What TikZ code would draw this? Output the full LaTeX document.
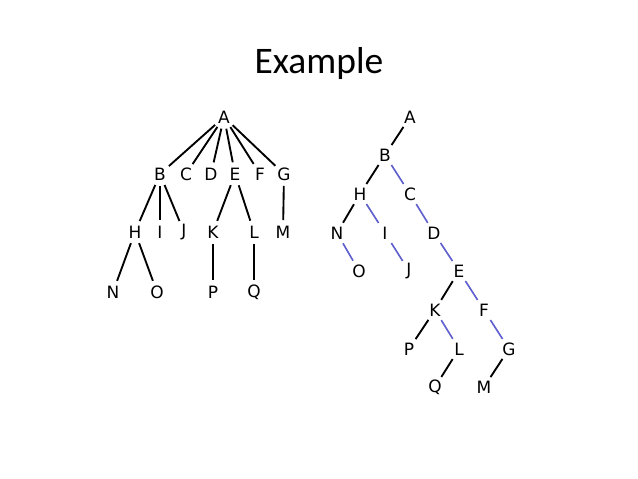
\documentclass[tikz,border=0pt]{standalone}
\usepackage{fontspec}
\setmainfont{Carlito}
\newfontfamily\treefont{DejaVu Sans}
\usepackage{tikz}
\definecolor{linkblue}{RGB}{95,95,205}

\begin{document}
\begin{tikzpicture}[x=0.03cm,y=-0.03cm,
  every node/.style={circle,inner sep=0pt,minimum size=0.7cm,font=\treefont\fontsize{14.5}{14.5}\selectfont},
  edge/.style={line width=1.6pt,black},
  link/.style={line width=1.4pt,linkblue}]
\useasboundingbox (0,0) rectangle (638,479);

\node[font=\fontsize{32}{32}\selectfont,rectangle] (title) at (319,64) {Example};

\node (la) at (224,117) {A};
\node (lb) at (160,174) {B};
\node (lc) at (186,174) {C};
\node (ld) at (211,174) {D};
\node (le) at (235,174) {E};
\node (lf) at (260,174) {F};
\node (lg) at (284,174) {G};
\node (lh) at (135,232) {H};
\node (li) at (160,232) {I};
\node (lj) at (184,232) {J};
\node (lk) at (213,232) {K};
\node (ll) at (254,232) {L};
\node (lm) at (283,232) {M};
\node (ln) at (113,292) {N};
\node (lo) at (157,292) {O};
\node (lp) at (213,292) {P};
\node (lq) at (254,292) {Q};

\draw[edge] (la) -- (lb);
\draw[edge] (la) -- (lc);
\draw[edge] (la) -- (ld);
\draw[edge] (la) -- (le);
\draw[edge] (la) -- (lf);
\draw[edge] (la) -- (lg);
\draw[edge] (lb) -- (lh);
\draw[edge] (lb) -- (li);
\draw[edge] (lb) -- (lj);
\draw[edge] (le) -- (lk);
\draw[edge] (le) -- (ll);
\draw[edge] (lg) -- (lm);
\draw[edge] (lh) -- (ln);
\draw[edge] (lh) -- (lo);
\draw[edge] (lk) -- (lp);
\draw[edge] (ll) -- (lq);

\node (ra) at (410,117) {A};
\node (rb) at (385,155) {B};
\node (rh) at (360,194) {H};
\node (rc) at (410,194) {C};
\node (rn) at (337,233) {N};
\node (ri) at (385,233) {I};
\node (rd) at (434,233) {D};
\node (ro) at (359,271) {O};
\node (rj) at (409,271) {J};
\node (re) at (459,271) {E};
\node (rk) at (435,310) {K};
\node (rf) at (484,310) {F};
\node (rp) at (409,349) {P};
\node (rl) at (459,349) {L};
\node (rg) at (509,349) {G};
\node (rq) at (435,387) {Q};
\node (rm) at (484,387) {M};

\draw[edge] (ra) -- (rb);
\draw[edge] (rb) -- (rh);
\draw[edge] (rh) -- (rn);
\draw[edge] (re) -- (rk);
\draw[edge] (rk) -- (rp);
\draw[edge] (rl) -- (rq);
\draw[edge] (rg) -- (rm);

\draw[link] (rb) -- (rc);
\draw[link] (rc) -- (rd);
\draw[link] (rd) -- (re);
\draw[link] (re) -- (rf);
\draw[link] (rf) -- (rg);
\draw[link] (rh) -- (ri);
\draw[link] (ri) -- (rj);
\draw[link] (rn) -- (ro);
\draw[link] (rk) -- (rl);

\end{tikzpicture}
\end{document}
